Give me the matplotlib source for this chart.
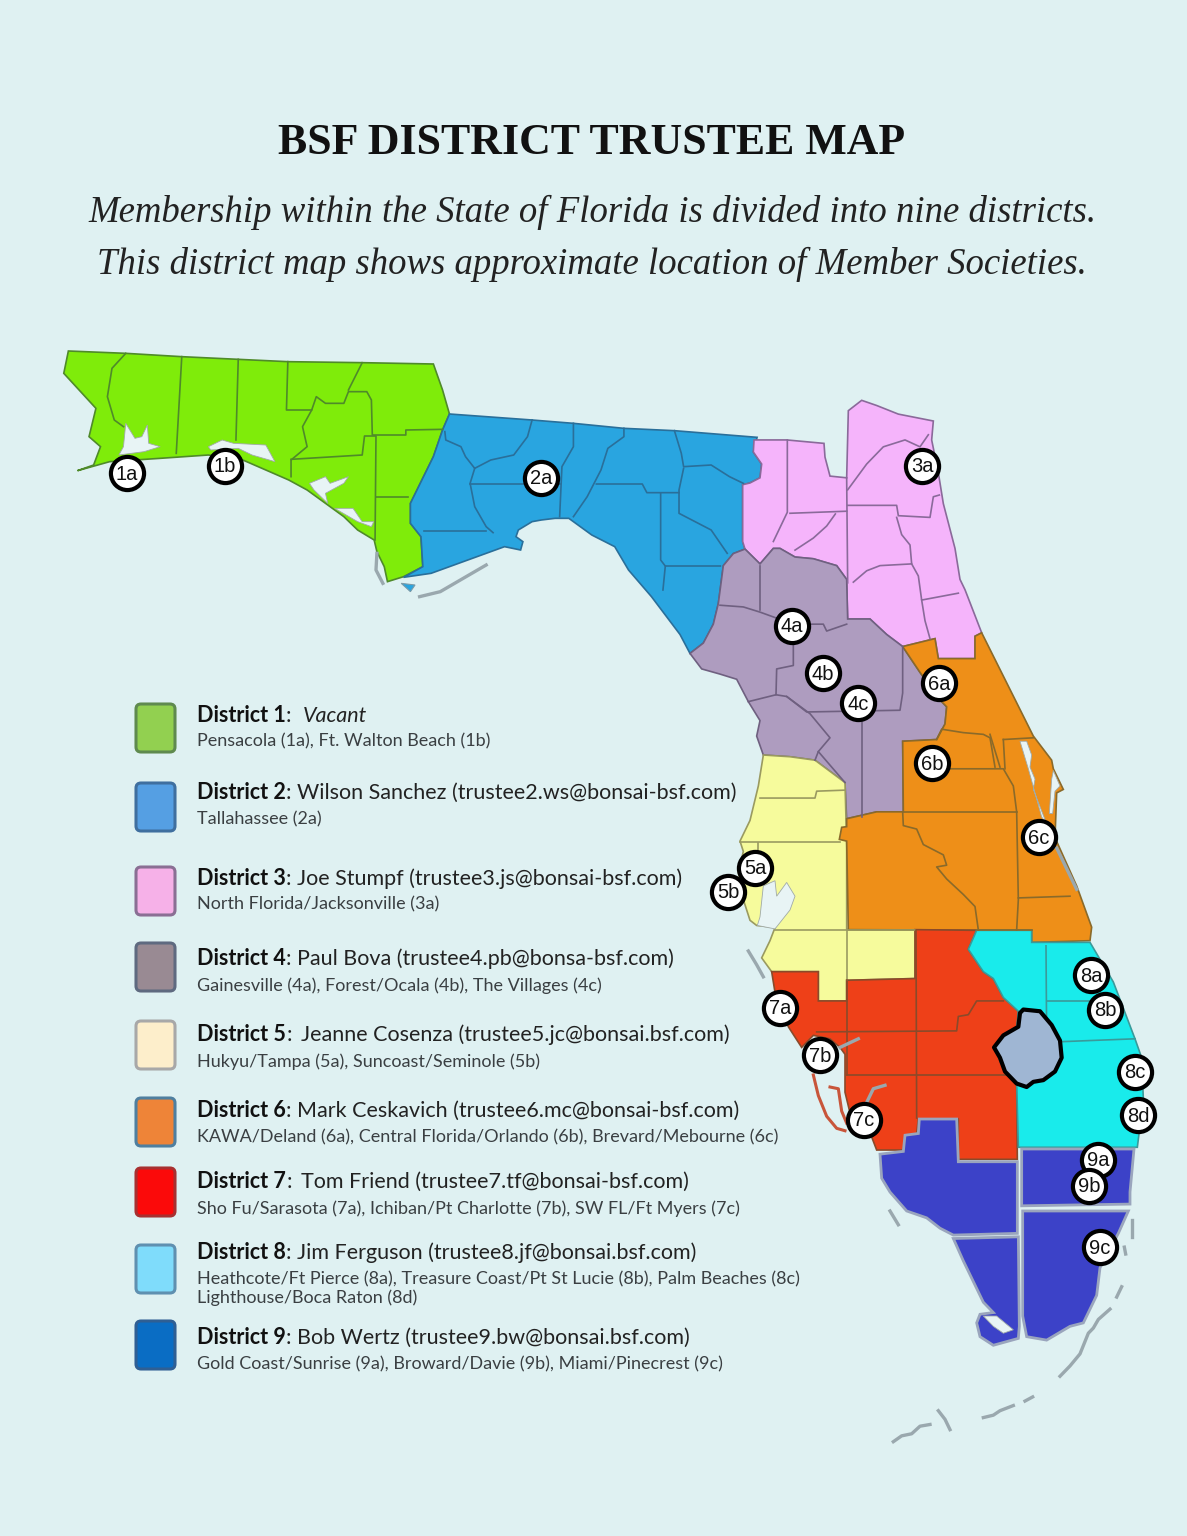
import matplotlib
matplotlib.use("Agg")
import matplotlib.pyplot as plt
from matplotlib.patches import FancyBboxPatch

def P1(pts):
    return [(50 + x / 2.178, 340 + y / 3.0) for x, y in pts]
def P2(pts):
    return [(680 + x / 3.0, 390 + y / 2.904) for x, y in pts]
def P3(pts):
    return [(730 + x / 3.0, 920 + y / 2.904) for x, y in pts]

BG = "#dff1f2"

# ---- district outlines
d1_outline = P1([(40,33),(165,40),(287,50),(410,58),(518,65),(680,68),(835,72),(855,150),(870,222),(855,270),(835,350),(810,420),(785,490),(785,550),(808,590),(812,680),(770,710),(735,725),(728,680),(712,635),(706,600),(670,570),(640,530),(600,490),(560,450),(520,420),(470,390),(420,360),(345,345),(240,355),(130,365),(60,392),(95,375),(110,320),(85,290),(100,205),(30,100)])
d2_outline = P1([(870,222),(1050,240),(1140,250),(1250,265),(1360,272),(1540,292)]) + P2([(220,180),(245,215),(240,255),(210,270),(188,275),(188,440),(195,462),(160,475),(130,510),(115,620),(100,680),(70,735),(30,765),(0,710)]) + P1([(1310,770),(1260,690),(1230,620),(1180,585),(1130,535),(1100,535),(1070,540),(1050,545),(1020,570),(1015,590),(1030,605),(1025,630),(990,620),(950,640),(880,675),(830,700),(770,712),(812,680),(808,590),(785,550),(785,490),(810,420),(835,350),(855,270)])
d3_outline = P2([(222,145),(320,145),(432,155),(435,195),(450,250),(500,255),(505,60),(545,30),(590,45),(655,70),(760,90),(755,145),(775,240),(790,330),(825,460),(840,550),(855,580),(905,705),(885,715),(885,780),(775,780),(765,722),(668,745),(620,710),(570,665),(503,665),(500,550),(470,510),(400,490),(345,485),(300,460),(280,460),(240,505),(195,462),(188,440),(188,275),(210,270),(240,255),(245,215),(220,180)])
d4_outline = P2([(195,462),(160,475),(130,510),(115,620),(100,680),(70,735),(30,765),(65,810),(120,825),(170,840),(205,905),(240,960),(230,1005),(250,1060),(330,1065),(405,1075),(495,1140),(500,1245),(590,1225),(670,1225),(668,1020),(770,1015),(795,970),(800,920),(780,900),(720,820),(668,745),(620,710),(570,665),(503,665),(500,550),(470,510),(400,490),(345,485),(300,460),(280,460),(240,505)])
d5_outline = P2([(250,1060),(330,1065),(405,1075),(495,1140),(500,1320),(500,1568)]) + P3([(351,28),(555,28),(555,170),(350,175),(350,235),(265,235),(265,150),(125,150),(95,110),(120,60),(135,22)]) + P2([(280,1560),(230,1555),(210,1540),(190,1480),(175,1400),(190,1340),(180,1310),(210,1250),(235,1150)])
d6_outline = P2([(668,745),(765,722),(775,780),(885,780),(885,715),(905,705),(1060,1005),(1115,1075),(1120,1100),(1150,1160),(1130,1170),(1125,1300),(1190,1440),(1235,1560)]) + P3([(1080,60),(905,65),(905,30),(355,28)]) + P2([(500,1310),(478,1305),(485,1270),(500,1268),(500,1245),(590,1225),(670,1225),(668,1020),(770,1015),(795,970),(800,920),(780,900),(720,820)])
d7_outline = P3([(125,150),(265,150),(265,235),(350,235),(350,175),(555,170),(555,28),(740,30),(715,85),(760,150),(790,170),(820,225),(865,265),(860,320),(800,370),(810,410),(860,470),(862,695),(685,695),(685,578),(565,578),(560,620),(525,625),(520,668),(440,668),(425,630),(405,600),(360,560),(345,500),(345,450),(345,390),(330,370),(300,345),(250,335),(215,370),(175,310),(135,210)])
d8_outline = P3([(740,30),(905,30),(905,65),(1080,65),(1150,180),(1215,345),(1235,400),(1240,520),(1222,660),(865,660),(860,470),(810,410),(800,370),(860,320),(865,265),(820,225),(790,170),(760,150),(715,85)])
d9_parts = [
    P3([(450,680),(520,672),(525,625),(565,620),(568,578),(680,578),(685,702),(862,702),(862,910),(670,915),(630,895),(590,865),(530,845),(480,790),(455,750)]),
    P3([(670,925),(865,920),(868,1180),(865,1215),(790,1235),(750,1210),(740,1170),(750,1145),(790,1140),(760,1110),(730,1050),(700,990)]),
    P3([(878,845),(1195,845),(1165,910),(1110,1010),(1100,1090),(1060,1170),(1020,1180),(950,1220),(890,1210),(878,1150)]),
    P3([(875,665),(1212,665),(1200,790),(1200,825),(875,830)]),
]
lake_outline = P3([(880,260),(930,265),(965,305),(990,350),(995,400),(975,440),(940,465),(910,470),(890,485),(860,475),(825,440),(810,400),(792,370),(820,335),(865,310),(870,270)])

# ---- water cut out of the districts
bays = [
    P1([(165,250),(185,295),(200,290),(212,255),(215,310),(240,320),(205,335),(150,345),(160,320)]),
    P1([(345,320),(375,300),(400,310),(470,315),(490,365),(440,345),(410,325),(350,330)]),
    P1([(565,430),(600,410),(610,430),(650,410),(640,430),(600,460),(605,490),(575,450)]),
    P1([(620,505),(660,505),(680,545),(705,545),(700,560),(670,545)]),
    P2([(232,1555),(240,1530),(250,1440),(285,1425),(290,1470),(320,1430),(345,1470),(330,1510),(285,1565)]),
    P2([(1020,1020),(1040,1020),(1055,1060),(1050,1095),(1065,1130),(1060,1160),(1100,1260),(1085,1240),(1045,1100)]),
    P2([(1120,1105),(1140,1150),(1125,1165),(1118,1230),(1108,1230),(1115,1130)]),
    P3([(760,1150),(800,1150),(850,1190),(820,1200),(790,1180)]),
]

# ---- county lines per district
d1_lines = [P1(l) for l in [
    [(165,40),(135,85),(125,170),(140,240),(160,260)],
    [(287,50),(275,340)],
    [(410,58),(405,300)],
    [(518,65),(515,210),(570,210),(580,170),(600,190),(640,190),(650,155),(690,155),(700,180),(702,285),(775,285),(775,270),(855,268)],
    [(680,68),(650,150)],
    [(570,210),(550,260),(560,320),(525,360),(525,410)],
    [(525,358),(680,345),(685,288),(710,288),(708,600)],
    [(710,470),(780,470)],
]]
d2_lines = [P1(l) for l in [
    [(860,275),(862,300),(895,320),(905,350),(925,385),(915,430),(925,500),(950,560),(965,578)],
    [(1050,240),(1040,290),(1010,345),(960,360),(925,385)],
    [(915,432),(1110,432)],
    [(1140,250),(1140,320),(1115,380),(1110,530)],
    [(1250,265),(1250,290),(1215,325),(1200,390),(1170,470),(1140,530)],
    [(1190,432),(1290,432),(1300,458),(1370,458)],
    [(1360,272),(1375,340),(1380,380),(1440,375),(1480,410),(1510,430)],
    [(1380,385),(1370,450),(1370,520),(1440,570),(1475,640)],
    [(1330,460),(1330,660),(1340,678),(1460,678)],
    [(1340,680),(1335,750)],
    [(815,572),(950,572)],
]]
d3_lines = [P2(l) for l in [
    [(322,145),(322,355),(280,440)],
    [(330,358),(500,352)],
    [(466,360),(440,395),(400,430),(345,465)],
    [(500,255),(503,560)],
    [(503,335),(650,335),(655,365),(750,370),(760,310),(778,305)],
    [(503,290),(560,215),(610,165),(675,145),(720,165),(745,130)],
    [(650,370),(665,420),(690,450),(695,505),(600,510),(560,525),(520,558)],
    [(695,505),(715,540),(725,610),(835,590)],
    [(725,610),(735,670),(750,722)],
]]
d4_lines = [P2(l) for l in [
    [(240,510),(240,640)],
    [(120,625),(190,630),(240,645),(340,680),(430,680),(440,700),(500,680)],
    [(340,680),(340,800),(290,810),(288,885),(205,905)],
    [(288,885),(320,890),(380,935),(660,930),(668,880),(668,745)],
    [(320,890),(390,940),(450,1010),(415,1050),(405,1075)],
    [(415,1050),(495,1140)],
    [(545,930),(545,1240)],
]]
d5_lines = [P2([(240,1185),(405,1185),(410,1165),(495,1162)]), P2([(180,1312),(480,1312)]),
            P2([(235,1315),(235,1350)]), P3([(135,28),(555,28)]), P3([(350,28),(350,175)])]
d6_lines = [P2(l) for l in [
    [(770,1015),(785,985),(850,995),(910,1000),(930,1010),(945,1095)],
    [(930,1000),(960,1095)],
    [(668,1225),(1010,1225)],
    [(800,1100),(970,1100),(1000,1150),(1010,1225),(1015,1480),(1010,1568)],
    [(970,1015),(1060,1010)],
    [(970,1015),(975,1100)],
    [(1015,1475),(1170,1470)],
    [(668,1225),(670,1265),(710,1275),(730,1320),(790,1350),(800,1380),(770,1385),(800,1420),(850,1465),(885,1500),(895,1568)],
]] + [P3([(905,30),(740,30)])]
d7_lines = [P3(l) for l in [
    [(350,175),(350,450)],
    [(558,30),(560,575)],
    [(260,325),(680,322),(685,280),(715,275),(740,235),(820,235)],
    [(350,450),(860,450)],
]]
d8_lines = [P3(l) for l in [
    [(948,75),(950,350)],
    [(950,235),(1165,235)],
    [(950,355),(1215,345)],
]]

# ---- islands and spits
island_lines = [P3(l) for l in [
    [(1140,1130),(1105,1160),(1090,1185),(1075,1200),(1050,1260),(1020,1295),(990,1325)],
    [(908,1385),(885,1397)],
    [(850,1410),(810,1425),(790,1438),(760,1445)],
    [(625,1425),(645,1450),(660,1480)],
    [(600,1465),(570,1470),(545,1492),(515,1498),(490,1515)],
    [(1175,1065),(1160,1095)],
    [(1183,950),(1187,970)],
    [(1205,920),(1205,870)],
    [(480,845),(505,885)],
    [(55,90),(80,130),(100,165)],
    [(330,370),(385,345)],
    [(410,530),(430,490),(465,480)],
]] + [P1(l) for l in [
    [(805,770),(850,755),(950,675)],
    [(712,640),(710,690),(725,730)],
]] + [P2([(1130,1330),(1190,1450)])]
barrier_red = [P3([(250,450),(265,510),(290,570),(320,605),(345,612)]),
               P3([(300,485),(325,490),(335,555),(350,590)])]
st_vincent = P1([(765,730),(795,735),(785,755)])

# ---- site badges
badge_names = ["1a","1b","2a","3a","4a","4b","4c","5a","5b","6a","6b","6c","7a","7b","7c","8a","8b","8c","8d","9a","9b","9c"]
badge_x = [127,225,541,922,792,823,858,755,728,939,932,1039,780,820,864,1091,1105,1135,1138,1098,1089,1100]
badge_y = [473,466,478,466,626,673,703,868,892,683,763,837,1008,1055,1120,975,1010,1072,1115,1160,1186,1247]

# ---- legend
district_names = ["District %d" % i for i in range(1, 10)]
trustees = [":  ", ": Wilson Sanchez (trustee2.ws@bonsai-bsf.com)", ": Joe Stumpf (trustee3.js@bonsai-bsf.com)",
            ": Paul Bova (trustee4.pb@bonsa-bsf.com)", ":  Jeanne Cosenza (trustee5.jc@bonsai.bsf.com)",
            ": Mark Ceskavich (trustee6.mc@bonsai-bsf.com)", ":  Tom Friend (trustee7.tf@bonsai-bsf.com)",
            ": Jim Ferguson (trustee8.jf@bonsai.bsf.com)", ": Bob Wertz (trustee9.bw@bonsai.bsf.com)"]
societies = ["Pensacola (1a), Ft. Walton Beach (1b)", "Tallahassee (2a)", "North Florida/Jacksonville (3a)",
             "Gainesville (4a), Forest/Ocala (4b), The Villages (4c)", "Hukyu/Tampa (5a), Suncoast/Seminole (5b)",
             "KAWA/Deland (6a), Central Florida/Orlando (6b), Brevard/Mebourne (6c)",
             "Sho Fu/Sarasota (7a), Ichiban/Pt Charlotte (7b), SW FL/Ft Myers (7c)",
             "Heathcote/Ft Pierce (8a), Treasure Coast/Pt St Lucie (8b), Palm Beaches (8c)\nLighthouse/Boca Raton (8d)",
             "Gold Coast/Sunrise (9a), Broward/Davie (9b), Miami/Pinecrest (9c)"]
head_base = [722,799,885,965,1041,1117,1188,1259,1344]
sub_top = [733,811,896,977,1053,1129,1200,1271,1356]
swatch_mid = [728,807,891,967,1045,1122,1192,1269,1345]
swatch_fill = ["#92d050","#559fe3","#f6b1e8","#998a93","#fdeecb","#ee8438","#fb0a0a","#7fdcfb","#0a6dc4"]
swatch_edge = ["#5f8a4f","#3f6f9f","#8a6f94","#5f6a80","#a8a8a8","#4f7f9f","#a83030","#5f90b0","#2f5f94"]

map_fill = ["#7fec0a","#29a5e0","#f5b4fb","#ae9cbf","#f6fb9c","#ee8f18","#ee4018","#19ebeb"]
map_line = ["#4f8a2a","#2a6f9a","#8a6a9a","#6f6080","#9a9a60","#8a6a2a","#8a4a2a","#3a9a9a"]

fig = plt.figure(figsize=(11.87, 15.36), dpi=100, facecolor=BG)
ax = fig.add_axes([0, 0, 1, 1])
ax.set_xlim(0, 1187)
ax.set_ylim(1536, 0)
ax.axis("off")

ax.text(592, 143, "BSF DISTRICT TRUSTEE MAP", ha="center", va="center", fontsize=31.6,
        family="Liberation Serif", weight="bold", color="#111111")
ax.text(592, 212, "Membership within the State of Florida is divided into nine districts.", ha="center",
        va="center", fontsize=26.5, family="Liberation Serif", style="italic", color="#222222")
ax.text(592, 264, "This district map shows approximate location of Member Societies.", ha="center",
        va="center", fontsize=26.5, family="Liberation Serif", style="italic", color="#222222")

outlines = [d1_outline, d2_outline, d3_outline, d4_outline, d5_outline, d6_outline, d7_outline, d8_outline]
county_sets = [d1_lines, d2_lines, d3_lines, d4_lines, d5_lines, d6_lines, d7_lines, d8_lines]
for poly, col, edge in zip(outlines, map_fill, map_line):
    ax.fill(*zip(*poly), facecolor=col, edgecolor=edge, lw=1.2, zorder=2)
for part in d9_parts:
    ax.fill(*zip(*part), facecolor="#3c42c8", edgecolor="#9aa5bd", lw=2, zorder=2)
for lines, edge in zip(county_sets, map_line):
    for l in lines:
        ax.plot(*zip(*l), color=edge, lw=1.2, zorder=3)
for b in bays:
    ax.fill(*zip(*b), facecolor="#e8f4f5", edgecolor="#a0aaa8", lw=0.6, zorder=4)
for l in island_lines:
    ax.plot(*zip(*l), color="#9aa8ae", lw=2.4, zorder=4)
for l in barrier_red:
    ax.plot(*zip(*l), color="#c8553a", lw=2.2, zorder=4)
ax.fill(*zip(*st_vincent), facecolor="#29a5e0", edgecolor="#7a9aa8", lw=0.8, zorder=4)
ax.fill(*zip(*lake_outline), facecolor="#9fb6d3", edgecolor="black", lw=3, zorder=5, joinstyle="round")

ax.scatter(badge_x, badge_y, s=570, facecolor="white", edgecolor="black", lw=3, zorder=6)
for name, x, y in zip(badge_names, badge_x, badge_y):
    ax.text(x, y + 1, name, ha="center", va="center", fontsize=14.5, family="Liberation Sans", color="#111111", zorder=7)

fig.canvas.draw()
rend = fig.canvas.get_renderer()
for i in range(9):
    ax.add_patch(FancyBboxPatch((136, swatch_mid[i] - 24), 39, 48, boxstyle="round,pad=0,rounding_size=5",
                                facecolor=swatch_fill[i], edgecolor=swatch_edge[i], lw=2.2, zorder=2))
    t = ax.text(197, head_base[i], district_names[i], va="baseline", fontsize=15.5, family="Lato",
                weight="bold", color="#111111")
    x_end = t.get_window_extent(rend).x1
    double_gap = trustees[i].startswith(":  ")
    rest = trustees[i].replace(":  ", ": ")
    t2 = ax.text(x_end + 0.5, head_base[i], rest, va="baseline", fontsize=15.5, family="Lato", color="#222222")
    if i == 0:
        ax.text(t2.get_window_extent(rend).x1 + 5, head_base[i], "Vacant", va="baseline", fontsize=15.5,
                family="Lato", style="italic", color="#222222")
    elif double_gap:
        t2.set_text(":")
        colon_end = t2.get_window_extent(rend).x1
        ax.text(colon_end + 9, head_base[i], rest[2:], va="baseline", fontsize=15.5, family="Lato", color="#222222")
    ax.text(197, sub_top[i], societies[i], va="top", fontsize=13, family="Lato", color="#3a3f42", linespacing=1.15)

fig.savefig("out.png", dpi=100, facecolor=BG)
